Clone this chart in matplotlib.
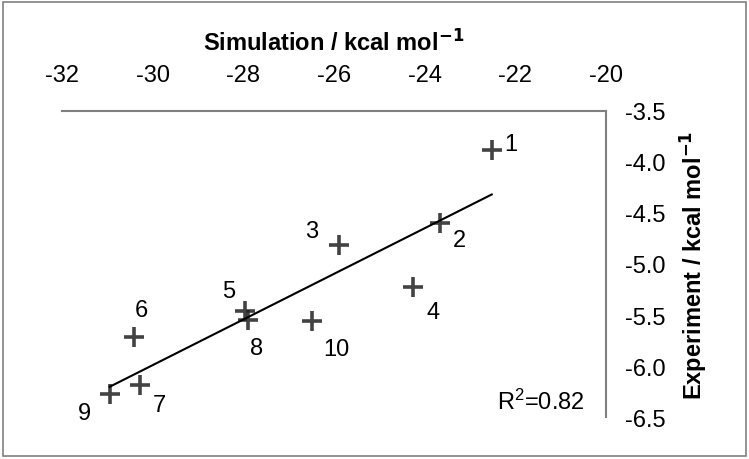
import numpy as np
import matplotlib.pyplot as plt
from matplotlib.patches import Rectangle

labels = ["1", "2", "3", "4", "5", "6", "7", "8", "9", "10"]
sim = [-22.52, -23.67, -25.89, -24.25, -27.96, -30.41, -30.28, -27.89, -30.95, -26.49]
exp = [-3.88, -4.60, -4.81, -5.23, -5.46, -5.72, -6.19, -5.55, -6.27, -5.56]
r2_text = "R$^2$=0.82"

# label offsets in points
offsets = {"1": (14, 4), "2": (14, -12), "3": (-20, 10), "4": (14, -18), "5": (-12, 14),
           "6": (5, 20), "7": (14, -14), "8": (6, -20), "9": (-18, -14), "10": (18, -20)}

plt.rcParams['font.family'] = ['Liberation Sans', 'DejaVu Sans']
plt.rcParams['axes.unicode_minus'] = False
plt.rcParams['mathtext.default'] = 'regular'
fig = plt.figure(figsize=(7.49, 4.6), dpi=100)
fig.patches.append(Rectangle((0.004, 0.006), 0.992, 0.988, transform=fig.transFigure,
                             fill=False, edgecolor='#808080', lw=1.2))
ax = fig.add_axes([0.083, 0.091, 0.726, 0.666])

ax.plot(sim, exp, linestyle='none', marker='+', ms=14, mew=2.6, color='#222222', alpha=0.85)
slope, icpt = np.polyfit(sim, exp, 1)
xs = np.array([min(sim), max(sim)])
ax.plot(xs, slope * xs + icpt, color='black', lw=1.5)

for lab, x, y in zip(labels, sim, exp):
    dx, dy = offsets[lab]
    ax.annotate(lab, (x, y), xytext=(dx, dy), textcoords='offset points',
                fontsize=17, ha='center', va='center')

ax.text(0.96, 0.01, r2_text, transform=ax.transAxes, fontsize=17, ha='right', va='bottom')

ax.set_xlim(-32, -20)
ax.set_ylim(-6.5, -3.5)
ax.set_xticks(np.arange(-32, -19, 2))
ax.set_yticks(np.arange(-6.5, -3.4, 0.5))
ax.set_yticklabels([f"{v:.1f}" for v in np.arange(-6.5, -3.4, 0.5)])
ax.xaxis.tick_top()
ax.xaxis.set_label_position('top')
ax.yaxis.tick_right()
ax.yaxis.set_label_position('right')
ax.tick_params(axis='x', length=0, labelsize=17, pad=18)
ax.tick_params(axis='y', length=0, labelsize=17, pad=14)
for s in ['left', 'bottom']:
    ax.spines[s].set_visible(False)
for s in ['top', 'right']:
    ax.spines[s].set_color('#808080')
    ax.spines[s].set_linewidth(1.5)

ax.set_xlabel("Simulation / kcal mol$^{\\mathbf{-1}}$", fontsize=17, fontweight='bold', labelpad=10)
ax.set_ylabel("Experiment / kcal mol$^{\\mathbf{-1}}$", fontsize=17, fontweight='bold', labelpad=8)

fig.savefig("out.png", dpi=100)
